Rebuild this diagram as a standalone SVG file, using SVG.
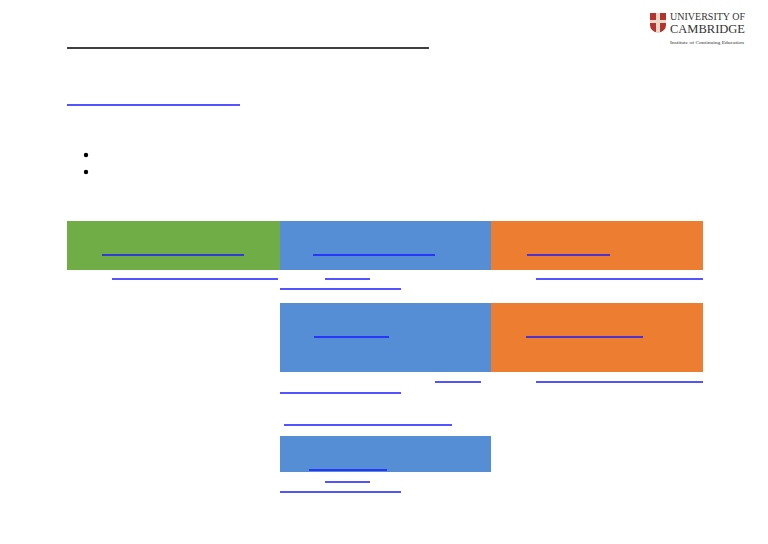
<svg xmlns="http://www.w3.org/2000/svg" width="768" height="544" viewBox="0 0 768 544">
<style>.l{stroke:#1a1aff;stroke-width:1.3}.g{fill:#70ad47}.b{fill:#558ed5}.o{fill:#ed7d31}.t{font-family:"Liberation Serif",serif;fill:#333}</style>
<rect width="768" height="544" fill="#fff"/>
<g id="logo">
<path d="M650 13h16v12q0 6-8 8q-8-2-8-8z" fill="#b5332e"/>
<rect x="656" y="13" width="4" height="20" fill="#e8d9c8"/><rect x="650" y="20" width="16" height="3" fill="#e8d9c8"/>
<text class="t" x="670" y="20" font-size="9.5" textLength="75" lengthAdjust="spacingAndGlyphs">UNIVERSITY OF</text>
<text class="t" x="670" y="33" font-size="12" textLength="75" lengthAdjust="spacingAndGlyphs">CAMBRIDGE</text>
<text class="t" x="670" y="44" font-size="4.5" textLength="74" lengthAdjust="spacingAndGlyphs">Institute of Continuing Education</text>
</g>
<line x1="67" y1="48" x2="429" y2="48" stroke="#000" stroke-width="1.3"/>
<g id="bullets"><circle cx="86" cy="155" r="2.2"/><circle cx="86" cy="172" r="2.2"/></g>
<g id="n1"><rect class="g" x="67" y="221" width="213" height="49"/></g>
<g id="n2"><rect class="b" x="280" y="221" width="211" height="49"/></g>
<g id="n3"><rect class="o" x="491" y="221" width="212" height="49"/></g>
<g id="n4"><rect class="b" x="280" y="303" width="211" height="69"/></g>
<g id="n5"><rect class="o" x="491" y="303" width="212" height="69"/></g>
<g id="n6"><rect class="b" x="280" y="436" width="211" height="36"/></g>
<g id="links">
<line class="l" x1="67" y1="105" x2="240" y2="105"/>
<line class="l" x1="102" y1="255" x2="244" y2="255"/>
<line class="l" x1="313" y1="255" x2="435" y2="255"/>
<line class="l" x1="527" y1="255" x2="610" y2="255"/>
<line class="l" x1="112" y1="279" x2="278" y2="279"/>
<line class="l" x1="325" y1="279" x2="370" y2="279"/>
<line class="l" x1="536" y1="279" x2="703" y2="279"/>
<line class="l" x1="280" y1="289" x2="401" y2="289"/>
<line class="l" x1="314" y1="337" x2="389" y2="337"/>
<line class="l" x1="526" y1="337" x2="643" y2="337"/>
<line class="l" x1="435" y1="382" x2="481" y2="382"/>
<line class="l" x1="536" y1="382" x2="703" y2="382"/>
<line class="l" x1="280" y1="393" x2="401" y2="393"/>
<line class="l" x1="284" y1="425" x2="452" y2="425"/>
<line class="l" x1="309" y1="470" x2="387" y2="470"/>
<line class="l" x1="325" y1="482" x2="370" y2="482"/>
<line class="l" x1="280" y1="492" x2="401" y2="492"/>
</g>
</svg>
